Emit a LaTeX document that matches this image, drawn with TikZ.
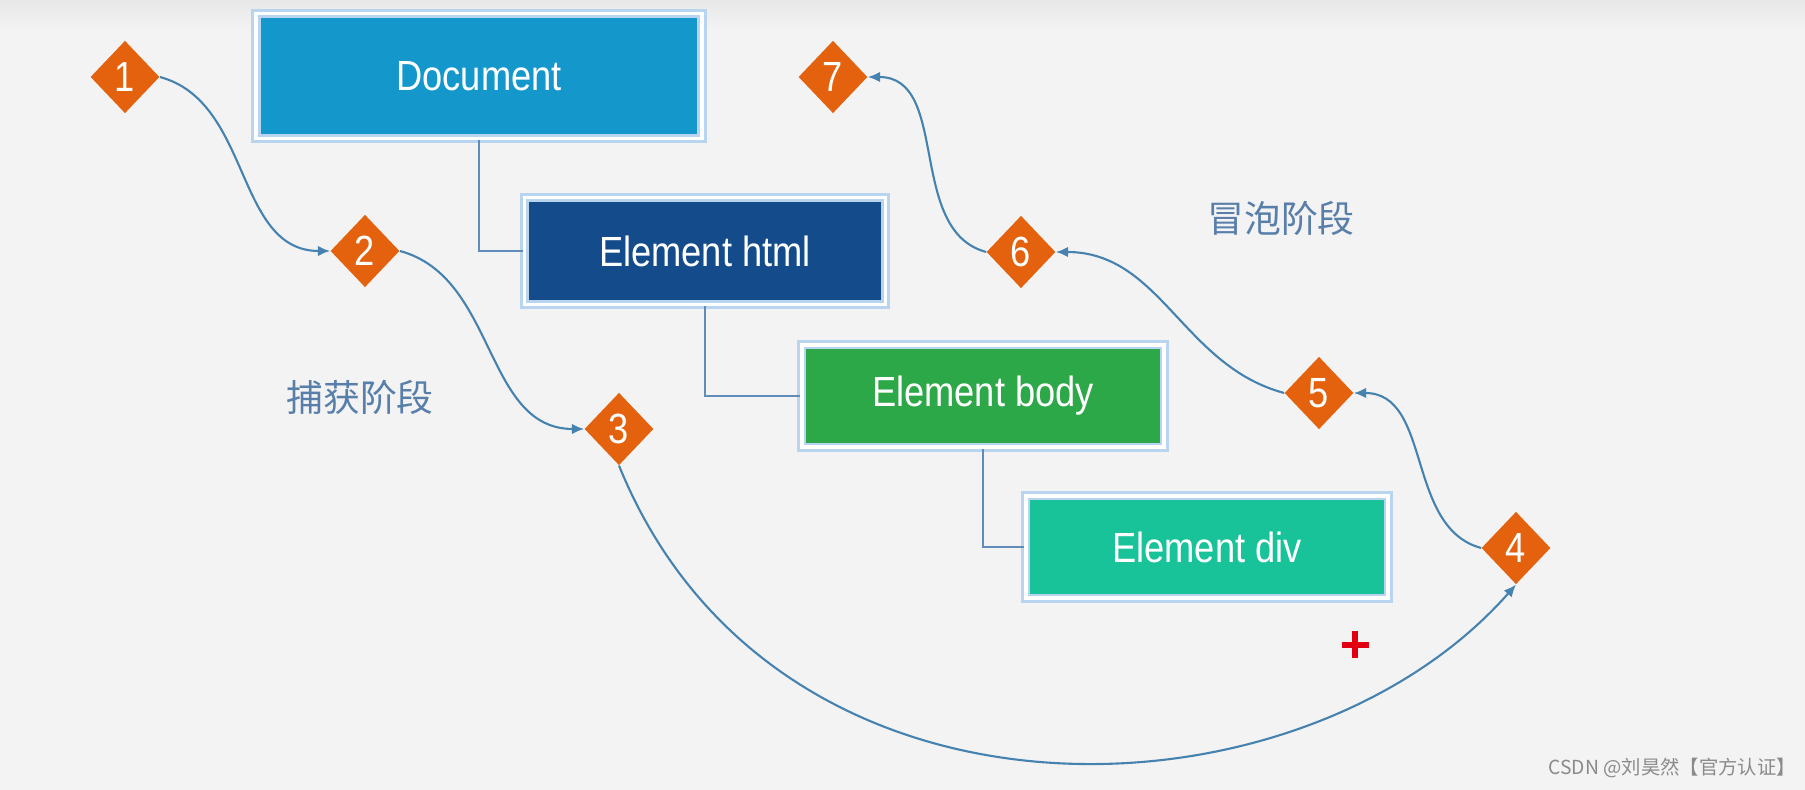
\documentclass[tikz,border=0pt]{standalone}
\usepackage{fontspec}
\setmainfont{Liberation Sans}
\newfontfamily\boxfont[FakeStretch=0.86]{Liberation Sans}
\newfontfamily\cjk{Noto Sans CJK SC}
\usetikzlibrary{shapes.geometric, arrows.meta, positioning}
\definecolor{bggray}{RGB}{243, 243, 243}
\definecolor{bgtop}{RGB}{232, 232, 232}
\definecolor{docblue}{RGB}{20, 152, 204}
\definecolor{htmlblue}{RGB}{20, 75, 138}
\definecolor{bodygreen}{RGB}{44, 168, 72}
\definecolor{divgreen}{RGB}{24, 195, 154}
\definecolor{boxedge}{RGB}{184, 212, 238}
\definecolor{treeblue}{RGB}{95, 140, 185}
\definecolor{flowblue}{RGB}{70, 130, 175}
\definecolor{steporange}{RGB}{228, 98, 14}
\definecolor{phaseblue}{RGB}{88, 126, 170}
\definecolor{marktext}{RGB}{138, 138, 138}
\definecolor{cursorred}{RGB}{224, 0, 16}

\begin{document}
\begin{tikzpicture}[
  elem/.style={draw=boxedge, double=white, double distance=2.2pt, line width=1.5pt,
    text=white, font=\boxfont\fontsize{24}{28}\selectfont,
    minimum width=7.25cm, minimum height=2.05cm, inner sep=0pt},
  stepmark/.style={shape=diamond, fill=steporange, text=white,
    font=\boxfont\fontsize{24}{28}\selectfont,
    minimum width=1.38cm, minimum height=1.45cm, inner sep=0pt},
  flow/.style={draw=flowblue, line width=1.2pt, -{Latex[length=7pt,width=6pt]}},
  tree/.style={draw=treeblue, line width=1.3pt},
  phase/.style={text=phaseblue, font=\cjk\fontsize{21}{24}\selectfont}
]
  % Background
  \fill[bggray] (0, 0) rectangle (36.1, 15.8);
  \shade[top color=bgtop, bottom color=bggray] (0, 15.2) rectangle (36.1, 15.8);
  \useasboundingbox (0, 0) rectangle (36.1, 15.8);

  % DOM tree
  \node[elem, fill=docblue, minimum width=8.92cm, minimum height=2.5cm] (doc) at (9.58, 14.28) {Document};
  \node[elem, fill=htmlblue, minimum width=7.22cm, minimum height=2.14cm] (html) at (14.1, 10.78) {Element html};
  \node[elem, fill=bodygreen] (body) at (19.66, 7.88) {Element body};
  \node[elem, fill=divgreen] (div) at (24.14, 4.86) {Element div};

  \draw[tree] (doc.south) |- (html.west);
  \draw[tree] (html.south) |- (body.west);
  \draw[tree] (body.south) |- (div.west);

  % Steps
  \node[stepmark] (s1) at (2.50, 14.26) {1};
  \node[stepmark] (s2) at (7.30, 10.78) {2};
  \node[stepmark] (s3) at (12.38, 7.22) {3};
  \node[stepmark] (s4) at (30.32, 4.84) {4};
  \node[stepmark] (s5) at (26.38, 7.94) {5};
  \node[stepmark] (s6) at (20.42, 10.76) {6};
  \node[stepmark] (s7) at (16.66, 14.26) {7};

  % Capture, then bubble
  \draw[flow] (s1.east) to[out=-15, in=180] (s2.west);
  \draw[flow] (s2.east) to[out=-15, in=180] (s3.west);
  \draw[flow] (s3.south) .. controls (15.5, -1.2) and (26, -0.8) .. (s4.south);
  \draw[flow] (s4.west) to[out=165, in=0] (s5.east);
  \draw[flow] (s5.west) to[out=165, in=0] (s6.east);
  \draw[flow] (s6.west) to[out=165, in=0] (s7.east);

  % Phase labels
  \node[phase] (capture) at (7.2, 7.86) {捕获阶段};
  \node[phase] (bubble) at (25.62, 11.44) {冒泡阶段};

  % Cursor
  \draw[cursorred, line width=3.5pt] (26.83, 2.9) -- (27.37, 2.9) (27.1, 2.63) -- (27.1, 3.17);

  % Watermark
  \node[anchor=east, text=marktext, font=\cjk\fontsize{11}{13}\selectfont] (mark) at (36.04, 0.44) {CSDN @刘昊然【官方认证】};
\end{tikzpicture}
\end{document}
